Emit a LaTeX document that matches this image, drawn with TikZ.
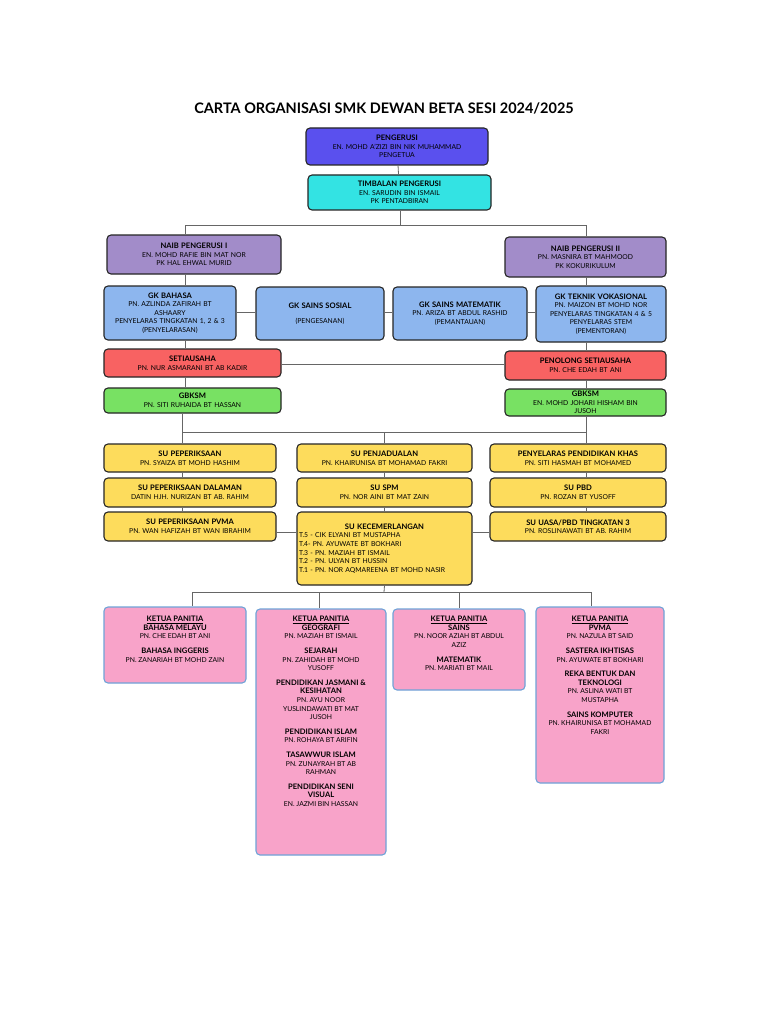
\documentclass[tikz,border=0pt]{standalone}
\usepackage{fontspec}
\setmainfont{Lato}
\definecolor{cpeng}{HTML}{5A50EE}
\definecolor{ctimb}{HTML}{33E3E3}
\definecolor{cnaib}{HTML}{A28CC9}
\definecolor{cgk}{HTML}{8DB6EE}
\definecolor{cset}{HTML}{F86262}
\definecolor{cgb}{HTML}{78E163}
\definecolor{cyel}{HTML}{FDDC5C}
\definecolor{cpink}{HTML}{F8A3C9}
\definecolor{cpb}{HTML}{6FA3D8}
\newcommand{\bx}[7]{\node[#6, minimum width={(#4-#2)*1pt}, minimum height={(#5-#3)*1pt}, text width={(#4-#2-6)*1pt}] (#1) at ({(#2+#4)/2},{(#3+#5)/2}) {#7};}
\newcommand{\hd}[1]{{\fontsize{7.6}{9}\selectfont\bfseries #1}}
\begin{document}
\begin{tikzpicture}[x=1pt,y=-1pt,
  box/.style={draw=black!85, line width=1.1pt, rounded corners=4pt, inner sep=0pt, align=center, font=\fontsize{6.8}{8.6}\selectfont},
  pink/.style={draw=cpb, line width=1.1pt, rounded corners=4pt, fill=cpink, inner sep=0pt},
  ptext/.style={anchor=north, align=center, inner sep=0pt, font=\fontsize{6.8}{8.6}\selectfont},
  ln/.style={draw=black!60, line width=0.8pt}]
\useasboundingbox (0,0) rectangle (768,1024);
\fill[white] (0,0) rectangle (768,1024);
\node[font=\fontsize{14.5}{16}\selectfont\bfseries] (title) at (384,108) {CARTA ORGANISASI SMK DEWAN BETA SESI 2024/2025};
% connectors first
\coordinate (bus1) at (400,225);
\coordinate (bus2) at (384,432);
\coordinate (bus3) at (384,592);
\bx{peng}{306}{128}{488}{165}{box,fill=cpeng}{\hd{PENGERUSI}\\EN. MOHD A'ZIZI BIN NIK MUHAMMAD\\PENGETUA}
\bx{timb}{308}{175}{491}{210}{box,fill=ctimb}{\hd{TIMBALAN PENGERUSI}\\EN. SARUDIN BIN ISMAIL\\PK PENTADBIRAN}
\bx{naib1}{107}{235}{281}{274}{box,fill=cnaib}{\hd{NAIB PENGERUSI I}\\EN. MOHD RAFIE BIN MAT NOR\\PK HAL EHWAL MURID}
\bx{naib2}{505}{237}{666}{277}{box,fill=cnaib}{\hd{NAIB PENGERUSI II}\\PN. MASNIRA BT MAHMOOD\\PK KOKURIKULUM}
\bx{gkb}{104}{286}{236}{340}{box,fill=cgk}{\hd{GK BAHASA}\\PN. AZLINDA ZAFIRAH BT\\ASHAARY\\PENYELARAS TINGKATAN 1, 2 \& 3\\(PENYELARASAN)}
\bx{gkss}{256}{287}{384}{340}{box,fill=cgk}{\hd{GK SAINS SOSIAL}\\[6pt](PENGESANAN)\\[4pt]}
\bx{gksm}{393}{287}{527}{340}{box,fill=cgk}{\hd{GK SAINS MATEMATIK}\\PN. ARIZA BT ABDUL RASHID\\(PEMANTAUAN)\\[4pt]}
\bx{gkt}{536}{286}{666}{342}{box,fill=cgk}{\hd{GK TEKNIK VOKASIONAL}\\PN. MAIZON BT MOHD NOR\\PENYELARAS TINGKATAN 4 \& 5\\PENYELARAS STEM\\(PEMENTORAN)}
\bx{setia}{104}{349}{281}{377}{box,fill=cset}{\hd{SETIAUSAHA}\\PN. NUR ASMARANI BT AB KADIR}
\bx{penol}{505}{351}{666}{380}{box,fill=cset}{\hd{PENOLONG SETIAUSAHA}\\PN. CHE EDAH BT ANI}
\bx{gb1}{104}{388}{281}{413}{box,fill=cgb}{\hd{GBKSM}\\PN. SITI RUHAIDA BT HASSAN}
\bx{gb2}{505}{389}{666}{416}{box,fill=cgb}{\hd{GBKSM}\\EN. MOHD JOHARI HISHAM BIN\\JUSOH}
\bx{supep}{104}{444}{276}{472}{box,fill=cyel}{\hd{SU PEPERIKSAAN}\\PN. SYAIZA BT MOHD HASHIM}
\bx{supen}{297}{444}{472}{472}{box,fill=cyel}{\hd{SU PENJADUALAN}\\PN. KHAIRUNISA BT MOHAMAD FAKRI}
\bx{pk}{490}{444}{666}{472}{box,fill=cyel}{\hd{PENYELARAS PENDIDIKAN KHAS}\\PN. SITI HASMAH BT MOHAMED}
\bx{supd}{104}{478}{276}{507}{box,fill=cyel}{\hd{SU PEPERIKSAAN DALAMAN}\\DATIN HJH. NURIZAN BT AB. RAHIM}
\bx{suspm}{297}{478}{472}{507}{box,fill=cyel}{\hd{SU SPM}\\PN. NOR AINI BT MAT ZAIN}
\bx{supbd}{490}{478}{666}{507}{box,fill=cyel}{\hd{SU PBD}\\PN. ROZAN BT YUSOFF}
\bx{supv}{104}{512}{276}{541}{box,fill=cyel}{\hd{SU PEPERIKSAAN PVMA}\\PN. WAN HAFIZAH BT WAN IBRAHIM}
\node[box,fill=cyel,minimum width=175pt,minimum height=73pt,text width=171pt,align=left] (sukec) at (384.5,548.5) {\centering\hd{SU KECEMERLANGAN}\par\raggedright T.5 - CIK ELYANI BT MUSTAPHA\\T.4- PN. AYUWATE BT BOKHARI\\T.3 - PN. MAZIAH BT ISMAIL\\T.2 - PN. ULYAN BT HUSSIN\\T.1 - PN. NOR AQMAREENA BT MOHD NASIR\par\vspace{4pt}};
\bx{suuasa}{490}{512}{666}{541}{box,fill=cyel}{\hd{SU UASA/PBD TINGKATAN 3}\\PN. ROSLINAWATI BT AB. RAHIM}
% pink boxes
\node[pink,minimum width=142pt,minimum height=76pt] (pbm) at (175,645) {};
\node[pink,minimum width=130pt,minimum height=246pt] (pgeo) at (321,732) {};
\node[pink,minimum width=132pt,minimum height=81pt] (psains) at (459,649.5) {};
\node[pink,minimum width=128pt,minimum height=176pt] (ppvma) at (600,695) {};
\node[ptext] (tbm) at (175,616) {\hd{\underline{KETUA PANITIA}}\\\hd{BAHASA MELAYU}\\PN. CHE EDAH BT ANI\\[6pt]\hd{BAHASA INGGERIS}\\PN. ZANARIAH BT MOHD ZAIN};
\node[ptext] (tgeo) at (321,616) {\hd{\underline{KETUA PANITIA}}\\\hd{GEOGRAFI}\\PN. MAZIAH BT ISMAIL\\[6pt]\hd{SEJARAH}\\PN. ZAHIDAH BT MOHD\\YUSOFF\\[6pt]\hd{PENDIDIKAN JASMANI \&}\\\hd{KESIHATAN}\\PN. AYU NOOR\\YUSLINDAWATI BT MAT\\JUSOH\\[6pt]\hd{PENDIDIKAN ISLAM}\\PN. ROHAYA BT ARIFIN\\[6pt]\hd{TASAWWUR ISLAM}\\PN. ZUNAYRAH BT AB\\RAHMAN\\[6pt]\hd{PENDIDIKAN SENI}\\\hd{VISUAL}\\EN. JAZMI BIN HASSAN};
\node[ptext] (tsains) at (459,616) {\hd{\underline{KETUA PANITIA}}\\\hd{SAINS}\\PN. NOOR AZIAH BT ABDUL\\AZIZ\\[6pt]\hd{MATEMATIK}\\PN. MARIATI BT MAIL};
\node[ptext] (tpvma) at (600,616) {\hd{\underline{KETUA PANITIA}}\\\hd{PVMA}\\PN. NAZULA BT SAID\\[6pt]\hd{SASTERA IKHTISAS}\\PN. AYUWATE BT BOKHARI\\[6pt]\hd{REKA BENTUK DAN}\\\hd{TEKNOLOGI}\\PN. ASLINA WATI BT\\MUSTAPHA\\[6pt]\hd{SAINS KOMPUTER}\\PN. KHAIRUNISA BT MOHAMAD\\FAKRI};
% connectors
\begin{scope}[on background layer/.style={}]
\end{scope}
\path[ln] (peng) -- (timb);
\path[ln] (timb.south -| bus1) -- (bus1);
\path[ln] (naib1.north -| 185,0) -- (185,225) -- (586,225) -- (naib2.north -| 586,0);
\path[ln] (naib1.south -| 185,0) -- (gkb.north -| 185,0);
\path[ln] (gkb.south -| 185,0) -- (setia.north -| 185,0);
\path[ln] (setia.south -| 185,0) -- (gb1.north -| 185,0);
\path[ln] (naib2.south -| 586,0) -- (gkt.north -| 586,0);
\path[ln] (gkt.south -| 586,0) -- (penol.north -| 586,0);
\path[ln] (penol.south -| 586,0) -- (gb2.north -| 586,0);
\path[ln] (gkb.east |- 0,312) -- (gkss.west |- 0,312);
\path[ln] (gkss.east |- 0,312) -- (gksm.west |- 0,312);
\path[ln] (gksm.east |- 0,312) -- (gkt.west |- 0,312);
\path[ln] (setia.east |- 0,364) -- (penol.west |- 0,364);
\path[ln] (gb1.south -| 182,0) -- (182,432) -- (586,432) -- (gb2.south -| 586,0);
\path[ln] (bus2) -- (supen.north -| bus2);
\path[ln] (182,432) -- (supep.north -| 182,0);
\path[ln] (586,432) -- (pk.north -| 586,0);
\path[ln] (supep.south -| 182,0) -- (supd.north -| 182,0);
\path[ln] (supd.south -| 182,0) -- (supv.north -| 182,0);
\path[ln] (supen) -- (suspm);
\path[ln] (suspm.south) -- (sukec.north);
\path[ln] (pk.south -| 586,0) -- (supbd.north -| 586,0);
\path[ln] (supbd.south -| 586,0) -- (suuasa.north -| 586,0);
\path[ln] (supv.east |- 0,532) -- (sukec.west |- 0,532);
\path[ln] (sukec.east |- 0,532) -- (suuasa.west |- 0,532);
\path[ln] (sukec.south) -- (bus3);
\path[ln] (192,592) -- (591,592);
\path[ln] (192,592) -- (pbm.north -| 192,0);
\path[ln] (319,592) -- (pgeo.north -| 319,0);
\path[ln] (459,592) -- (psains.north -| 459,0);
\path[ln] (591,592) -- (ppvma.north -| 591,0);
\end{tikzpicture}
\end{document}
